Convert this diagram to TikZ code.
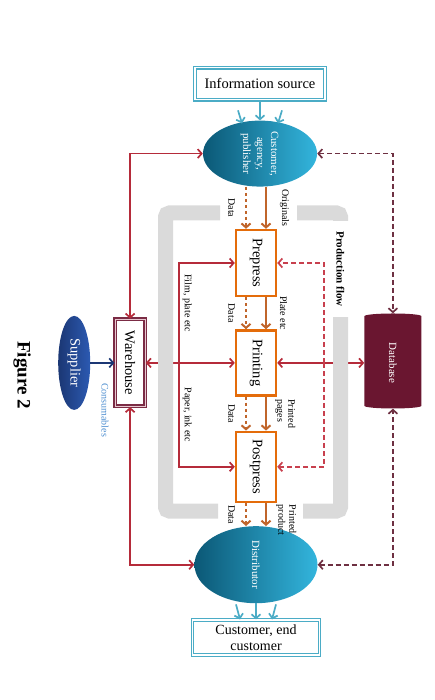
\documentclass[tikz,border=0pt]{standalone}
\usepackage{fontspec}
\setmainfont{Liberation Serif}
\usepackage{graphicx}
\usepackage{tikz}
\usetikzlibrary{shapes.geometric,arrows.meta,positioning,calc}
\usepackage{xcolor}
\definecolor{tealbox}{HTML}{4BACC6}
\definecolor{tealdark}{HTML}{0B5876}
\definecolor{teallight}{HTML}{33B5DD}
\definecolor{procorange}{HTML}{E46C0A}
\definecolor{flowbrown}{HTML}{C0652B}
\definecolor{supplyred}{HTML}{B52B3A}
\definecolor{feedred}{HTML}{C8404E}
\definecolor{dbline}{HTML}{6E3042}
\definecolor{dbfill}{HTML}{6A1630}
\definecolor{wareline}{HTML}{7B2C45}
\definecolor{warepink}{HTML}{E8C8D0}
\definecolor{navydark}{HTML}{1B3774}
\definecolor{navylight}{HTML}{2C5AB2}
\definecolor{consblue}{HTML}{4F8FD0}
\definecolor{framegray}{HTML}{DADADA}
\newcommand{\vtext}[1]{\rotatebox{-90}{#1}}
\newcommand{\fbig}{\fontsize{14.5pt}{16pt}\selectfont}
\newcommand{\fmid}{\fontsize{11pt}{14pt}\selectfont}
\newcommand{\fsmall}{\fontsize{10pt}{11pt}\selectfont}
\tikzset{block/.style={rectangle, draw=procorange, line width=2.4pt, fill=white,
    minimum width=40pt, inner sep=2pt, font=\fbig},
  line/.style={line width=1.7pt}
}

\begin{document}
\begin{tikzpicture}[x=1pt,y=-1pt,>={Straight Barb[length=4pt,width=9pt]}]
\tikzstyle{actor} = [ellipse, inner sep=0pt, left color=tealdark, right color=teallight,
  text=white, font=\fmid]
\tikzstyle{infobox} = [rectangle, draw=tealbox, line width=1.3pt, double=white,
  double distance=1.2pt, fill=white, inner sep=1pt, font=\fbig, align=center]
\tikzstyle{lbl} = [font=\fsmall, inner sep=1pt]
\tikzstyle{flow} = [line, draw=flowbrown, line width=2pt, ->]
\tikzstyle{supply} = [line, draw=supplyred]
\tikzstyle{feed} = [line, draw=feedred, dash pattern=on 5pt off 3pt]
\tikzstyle{dbl} = [line, draw=dbline, dash pattern=on 5pt off 3pt]

\useasboundingbox (0,0) rectangle (435,700);

\node [block, minimum height=66pt] (PP) at (256,263) {\vtext{Prepress}};
\node [block, minimum height=65pt, below=32pt of PP] (PR) {\vtext{Printing}};
\node [block, minimum height=70pt, below=34pt of PR] (PO) {\vtext{Postpress}};

\node [actor, minimum width=114pt, minimum height=66pt, above=42pt of PP, xshift=4pt] (C)
  {\vtext{\begin{tabular}{@{}c@{}}Customer,\\agency,\\publisher\end{tabular}}};
\node [infobox, minimum width=130pt, minimum height=32pt, above=20pt of C] (IS) {Information source};

\node [actor, minimum width=123pt, minimum height=77pt, below=23pt of PO] (DI) {\vtext{Distributor}};
\node [infobox, minimum width=127pt, minimum height=35pt, below=16pt of DI,
  font=\fontsize{14pt}{15.5pt}\selectfont] (EC) {Customer, end\\customer};

\node [rectangle, draw=wareline, line width=1.4pt, double=warepink, double distance=1.2pt,
  fill=white, minimum width=30pt, minimum height=87pt, inner sep=1pt, font=\fbig,
  left=89pt of PR] (W) {\vtext{Warehouse}};
\node [ellipse, inner sep=0pt, left color=navydark, right color=navylight, text=white,
  font=\fbig, minimum width=32pt, minimum height=94pt, left=24pt of W] (S) {\vtext{Supplier}};
\node [cylinder, shape border rotate=90, aspect=0.45, fill=dbfill, text=white, font=\fmid,
  minimum width=57pt, minimum height=95pt, inner sep=2pt, right=87pt of PR] (DB) {\vtext{Database}};

\node [lbl, text=consblue] (CO) at (105,410) {\vtext{Consumables}};
\node [font=\fontsize{19pt}{21pt}\selectfont\bfseries] (FIG) at (22,375) {\vtext{Figure 2}};

\coordinate (FL) at ($(PR.west)+(-56,0)$);
\coordinate (FR) at ($(PR.east)+(47,0)$);

%Lines
\draw[line, draw=tealbox, ->] (IS.south) -- (C.north);
\draw[line, draw=tealbox, ->] ([shift={(-22,10)}]IS.south) -- ([shift={(-18,3)}]C.north);
\draw[line, draw=tealbox, ->] ([shift={(22,10)}]IS.south) -- ([shift={(18,3)}]C.north);
\draw[line, draw=tealbox, ->] (DI.south) -- (EC.north);
\draw[line, draw=tealbox, ->] ([shift={(-20,1)}]DI.south) -- ([shift={(-16,0)}]EC.north);
\draw[line, draw=tealbox, ->] ([shift={(20,1)}]DI.south) -- ([shift={(16,0)}]EC.north);

\draw[flow, dashed] ([xshift=-14pt]C.south) -- ([xshift=-10pt]PP.north) node[midway, left=9pt, lbl] {\vtext{Data}};
\draw[flow] ([xshift=6pt]C.south) -- ([xshift=10pt]PP.north) node[midway, right=12pt, lbl] {\vtext{Originals}};
\draw[flow, dashed] ([xshift=-10pt]PP.south) -- ([xshift=-10pt]PR.north) node[midway, left=9pt, lbl] {\vtext{Data}};
\draw[flow] ([xshift=10pt]PP.south) -- ([xshift=10pt]PR.north) node[midway, right=12pt, lbl] {\vtext{Plate etc}};
\draw[flow, dashed] ([xshift=-10pt]PR.south) -- ([xshift=-10pt]PO.north) node[midway, left=9pt, lbl] {\vtext{Data}};
\draw[flow] ([xshift=10pt]PR.south) -- ([xshift=10pt]PO.north) node[midway, right=6pt, lbl]
  {\vtext{\begin{tabular}{@{}l@{}}Printed\\pages\end{tabular}}};
\draw[flow, dashed] ([xshift=-10pt]PO.south) -- ([xshift=-10pt]DI.north) node[midway, left=9pt, lbl] {\vtext{Data}};
\draw[flow] ([xshift=10pt]PO.south) -- ([xshift=10pt]DI.north);

\draw[supply, <->] (W.north) |- (C.west);
\draw[supply, <->] (W.south) |- (DI.west);
\draw[supply, <->] (PR.west) -- (PR.west -| W.east);
\draw[line, draw=navydark, ->] (S.east) -- (S.east -| W.west);
\draw[supply, ->] (FL) |- (PP.west) node[pos=0.3, right=2pt, lbl] {\vtext{Film, plate etc}};
\draw[supply, ->] (FL) |- (PO.west) node[pos=0.25, right=2pt, lbl] {\vtext{Paper, ink etc}};
\draw[supply, <->] (PR.east) -- (DB.west);
\draw[feed, ->] (FR) |- (PP.east);
\draw[feed, ->] (FR) |- (PO.east);
\draw[dbl, <->] (C.east) -| (DB.north);
\draw[dbl, <->] (DI.east) -| (DB.south);

\node[lbl] (PPL) at ($(PO.south)+(30,17)$)
  {\vtext{\begin{tabular}{@{}l@{}}Printed\\product\end{tabular}}};

% production flow frame
\draw[framegray, line width=15pt, rounded corners=4pt] (220,213) -- (165.5,213) -- (165.5,511) -- (218,511);
\draw[framegray, line width=15pt, rounded corners=4pt] (297,213) -- (340.5,213) -- (340.5,511) -- (303,511);
\node[fill=white, inner sep=1pt, minimum width=16pt, minimum height=95pt] (PF) at (340.5,269)
  {\vtext{\fontsize{11pt}{13pt}\selectfont\bfseries Production flow}};
\end{tikzpicture}
\end{document}
